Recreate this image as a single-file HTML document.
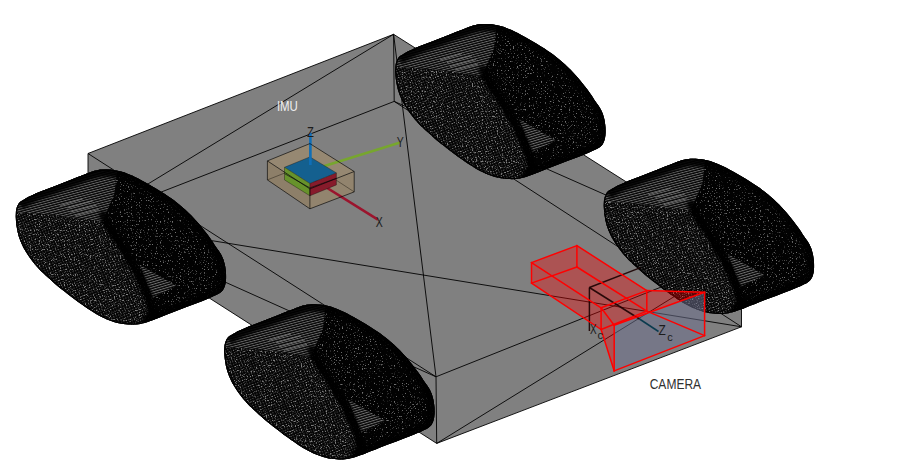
<!DOCTYPE html>
<html><head><meta charset="utf-8"><title>vehicle</title>
<style>html,body{margin:0;padding:0;background:#fff;}body{width:910px;height:476px;overflow:hidden;font-family:"Liberation Sans",sans-serif;}svg{display:block;}text{font-family:"Liberation Sans",sans-serif;}</style>
</head><body>
<svg width="910" height="476" viewBox="0 0 910 476">
<defs>
<pattern id="mesh" width="4.3" height="3.7" patternUnits="userSpaceOnUse" patternTransform="rotate(35)"><rect x="0" y="0" width="1" height="1" fill="#8a8a8a" fill-opacity="0.7"/><rect x="2.3" y="1.9" width="0.8" height="0.8" fill="#8a8a8a" fill-opacity="0.4"/></pattern>
<pattern id="mesh2" width="2.6" height="2.6" patternUnits="userSpaceOnUse" patternTransform="rotate(-22)"><rect x="0" y="0" width="1.15" height="1.15" fill="#868686"/></pattern>
<pattern id="stripe" width="4" height="2.4" patternUnits="userSpaceOnUse" patternTransform="rotate(-17)"><rect x="0" y="0" width="4" height="1" fill="#707070"/></pattern>
<pattern id="stripe2" width="4" height="2.3" patternUnits="userSpaceOnUse" patternTransform="rotate(-15)"><rect x="0" y="0" width="4" height="0.95" fill="#6a6a6a"/></pattern>
<filter id="speckT" x="385" y="15" width="230" height="175" filterUnits="userSpaceOnUse" color-interpolation-filters="sRGB"><feTurbulence type="fractalNoise" baseFrequency="0.75" numOctaves="1" seed="7"/><feColorMatrix type="matrix" values="0 0 0 0 0.45  0 0 0 0 0.45  0 0 0 0 0.45  8 0 0 0 -4.85"/></filter>
<filter id="speckA" x="385" y="15" width="230" height="175" filterUnits="userSpaceOnUse" color-interpolation-filters="sRGB"><feTurbulence type="fractalNoise" baseFrequency="0.8" numOctaves="1" seed="11"/><feColorMatrix type="matrix" values="0 0 0 0 0.5  0 0 0 0 0.5  0 0 0 0 0.5  8 0 0 0 -4.75"/></filter>
<clipPath id="zA"><path d="M396,66 L430,68 L480,75 L488.4,87 L501.8,107 L515.2,130.6 L525.3,154 L528.7,167.5 L516,185 L470,190 L420,145 L385,100 Z"/></clipPath>
<filter id="blur2" x="-30%" y="-30%" width="160%" height="160%"><feGaussianBlur stdDeviation="1.6"/></filter>
<clipPath id="wclip"><path d="M395.4,66.0 L395.2,68.3 L395.1,70.8 L395.3,73.3 L395.5,76.0 L395.8,78.9 L396.3,82.0 L396.8,85.1 L397.5,88.0 L398.2,90.7 L399.1,93.2 L400.0,95.7 L401.0,98.0 L402.0,100.2 L403.1,102.4 L404.3,104.4 L405.5,106.5 L406.8,108.5 L408.1,110.5 L409.5,112.4 L411.0,114.5 L412.7,116.7 L414.5,119.0 L416.5,121.3 L418.5,123.5 L420.6,125.7 L422.9,127.8 L425.2,129.9 L427.5,132.0 L429.8,134.1 L432.2,136.3 L434.6,138.4 L437.0,140.5 L439.4,142.4 L441.7,144.3 L444.1,146.1 L446.5,148.0 L449.1,150.0 L451.7,152.0 L454.4,154.1 L457.0,156.0 L459.5,157.8 L462.1,159.6 L464.5,161.3 L467.0,163.0 L469.4,164.6 L471.8,166.1 L474.1,167.6 L476.5,169.0 L478.8,170.3 L481.2,171.5 L483.5,172.6 L486.0,173.7 L488.6,174.8 L491.4,175.8 L494.2,176.7 L497.0,177.5 L499.8,178.1 L502.6,178.5 L505.3,178.8 L507.8,179.0 L510.0,179.1 L512.0,179.2 L513.9,179.1 L515.9,179.0 L517.9,178.8 L519.8,178.4 L521.9,178.0 L524.1,177.4 L526.5,176.7 L529.1,175.8 L531.9,174.8 L535.1,173.6 L538.5,172.3 L542.2,170.8 L546.5,169.1 L551.7,167.0 L558.8,164.3 L567.2,161.1 L575.4,157.9 L582.0,155.4 L586.2,153.7 L589.1,152.5 L591.2,151.6 L593.3,150.6 L595.6,149.5 L597.6,148.6 L599.4,147.5 L600.9,146.3 L602.2,144.9 L603.2,143.3 L604.0,141.6 L604.6,139.7 L605.1,137.6 L605.4,135.2 L605.6,132.8 L605.6,130.2 L605.5,127.5 L605.2,124.5 L604.8,121.6 L604.3,118.9 L603.6,116.4 L602.9,114.0 L601.9,111.7 L600.9,109.5 L599.7,107.4 L598.4,105.5 L596.9,103.5 L595.5,101.5 L594.1,99.4 L592.8,97.3 L591.3,95.0 L589.5,92.5 L587.4,89.6 L585.0,86.4 L582.4,83.2 L580.0,80.2 L577.7,77.5 L575.4,74.9 L573.1,72.4 L570.6,69.8 L567.9,67.2 L565.1,64.5 L562.2,61.9 L559.3,59.4 L556.5,57.2 L553.8,55.1 L551.0,53.0 L547.9,50.9 L544.4,48.6 L540.6,46.2 L536.7,43.8 L532.8,41.5 L528.9,39.2 L525.0,37.0 L521.2,34.9 L517.7,33.0 L514.5,31.4 L511.6,30.1 L508.8,28.9 L506.3,27.9 L504.2,27.1 L502.4,26.4 L500.5,25.9 L498.4,25.4 L495.7,24.9 L492.8,24.5 L489.8,24.1 L487.0,23.9 L484.5,23.9 L482.2,23.9 L479.9,24.1 L477.6,24.5 L475.7,24.9 L474.0,25.3 L471.8,26.0 L468.2,27.3 L462.8,29.4 L456.0,32.0 L448.7,34.9 L441.7,37.7 L434.7,40.4 L427.5,43.2 L420.8,45.8 L415.2,48.1 L411.2,49.9 L408.2,51.3 L406.0,52.6 L403.9,53.8 L402.0,54.9 L400.5,55.8 L399.3,56.7 L398.2,58.0 L397.2,59.7 L396.4,61.6 L395.8,63.8Z"/></clipPath>
<g id="wheel">
<path d="M395.4,66.0 L395.2,68.3 L395.1,70.8 L395.3,73.3 L395.5,76.0 L395.8,78.9 L396.3,82.0 L396.8,85.1 L397.5,88.0 L398.2,90.7 L399.1,93.2 L400.0,95.7 L401.0,98.0 L402.0,100.2 L403.1,102.4 L404.3,104.4 L405.5,106.5 L406.8,108.5 L408.1,110.5 L409.5,112.4 L411.0,114.5 L412.7,116.7 L414.5,119.0 L416.5,121.3 L418.5,123.5 L420.6,125.7 L422.9,127.8 L425.2,129.9 L427.5,132.0 L429.8,134.1 L432.2,136.3 L434.6,138.4 L437.0,140.5 L439.4,142.4 L441.7,144.3 L444.1,146.1 L446.5,148.0 L449.1,150.0 L451.7,152.0 L454.4,154.1 L457.0,156.0 L459.5,157.8 L462.1,159.6 L464.5,161.3 L467.0,163.0 L469.4,164.6 L471.8,166.1 L474.1,167.6 L476.5,169.0 L478.8,170.3 L481.2,171.5 L483.5,172.6 L486.0,173.7 L488.6,174.8 L491.4,175.8 L494.2,176.7 L497.0,177.5 L499.8,178.1 L502.6,178.5 L505.3,178.8 L507.8,179.0 L510.0,179.1 L512.0,179.2 L513.9,179.1 L515.9,179.0 L517.9,178.8 L519.8,178.4 L521.9,178.0 L524.1,177.4 L526.5,176.7 L529.1,175.8 L531.9,174.8 L535.1,173.6 L538.5,172.3 L542.2,170.8 L546.5,169.1 L551.7,167.0 L558.8,164.3 L567.2,161.1 L575.4,157.9 L582.0,155.4 L586.2,153.7 L589.1,152.5 L591.2,151.6 L593.3,150.6 L595.6,149.5 L597.6,148.6 L599.4,147.5 L600.9,146.3 L602.2,144.9 L603.2,143.3 L604.0,141.6 L604.6,139.7 L605.1,137.6 L605.4,135.2 L605.6,132.8 L605.6,130.2 L605.5,127.5 L605.2,124.5 L604.8,121.6 L604.3,118.9 L603.6,116.4 L602.9,114.0 L601.9,111.7 L600.9,109.5 L599.7,107.4 L598.4,105.5 L596.9,103.5 L595.5,101.5 L594.1,99.4 L592.8,97.3 L591.3,95.0 L589.5,92.5 L587.4,89.6 L585.0,86.4 L582.4,83.2 L580.0,80.2 L577.7,77.5 L575.4,74.9 L573.1,72.4 L570.6,69.8 L567.9,67.2 L565.1,64.5 L562.2,61.9 L559.3,59.4 L556.5,57.2 L553.8,55.1 L551.0,53.0 L547.9,50.9 L544.4,48.6 L540.6,46.2 L536.7,43.8 L532.8,41.5 L528.9,39.2 L525.0,37.0 L521.2,34.9 L517.7,33.0 L514.5,31.4 L511.6,30.1 L508.8,28.9 L506.3,27.9 L504.2,27.1 L502.4,26.4 L500.5,25.9 L498.4,25.4 L495.7,24.9 L492.8,24.5 L489.8,24.1 L487.0,23.9 L484.5,23.9 L482.2,23.9 L479.9,24.1 L477.6,24.5 L475.7,24.9 L474.0,25.3 L471.8,26.0 L468.2,27.3 L462.8,29.4 L456.0,32.0 L448.7,34.9 L441.7,37.7 L434.7,40.4 L427.5,43.2 L420.8,45.8 L415.2,48.1 L411.2,49.9 L408.2,51.3 L406.0,52.6 L403.9,53.8 L402.0,54.9 L400.5,55.8 L399.3,56.7 L398.2,58.0 L397.2,59.7 L396.4,61.6 L395.8,63.8Z" fill="#020202"/>
<g clip-path="url(#wclip)">
<rect x="385" y="15" width="230" height="175" filter="url(#speckT)"/>
<path d="M396,66 L430,68 L480,75 L488.4,87 L501.8,107 L515.2,130.6 L525.3,154 L528.7,167.5 L516,185 L470,190 L420,145 L385,100 Z" fill="#020202"/>
<path d="M396,66 L430,68 L480,75 L488.4,87 L501.8,107 L515.2,130.6 L525.3,154 L528.7,167.5 L516,185 L470,190 L420,145 L385,100 Z" fill="url(#mesh2)" fill-opacity="0.55"/>
<g clip-path="url(#zA)"><rect x="385" y="15" width="230" height="175" filter="url(#speckA)"/></g>
<path d="M390,66 L396,50 L473,20 L497,22 L494,48 L482,76 L430,69 L396,67 Z" fill="#020202"/>
<path d="M390,66 L396,50 L473,20 L497,22 L494,48 L482,76 L430,69 L396,67 Z" fill="url(#stripe2)"/>
<g stroke="#8a8a8a" stroke-width="0.9" stroke-opacity="0.8"><line x1="447" y1="62.5" x2="472" y2="55.5"/><line x1="450" y1="66.5" x2="476" y2="59.5"/><line x1="455" y1="70" x2="478" y2="64"/><line x1="440" y1="60" x2="462" y2="53.5"/></g>
<polygon points="519,119 556,140.5 532,152" fill="#020202"/>
<polygon points="519,119 556,140.5 532,152" fill="url(#stripe)"/>
<path d="M483,70 L492,87 L505.5,107 L519,130.6 L529,154 L533,172" fill="none" stroke="#000" stroke-width="9" stroke-opacity="0.92" stroke-linecap="round" filter="url(#blur2)"/>
<path d="M524.1,177.4 L535.1,173.6 L551.7,167.0 L582.0,155.4 L593.3,150.6 L600.9,146.3 L604.6,139.7 L605.6,130.2 L604.3,118.9 L600.9,109.5 L595.5,101.5 L589.5,92.5 L580.0,80.2 L570.6,69.8 L559.3,59.4 L547.9,50.9 L532.8,41.5 L517.7,33.0 L506.3,27.9 L498.4,25.4 L487.0,23.9 L477.6,24.5 L468.2,27.3 L441.7,37.7 L415.2,48.1 L403.9,53.8 L398.2,58.0" fill="none" stroke="#000" stroke-width="15" stroke-opacity="0.9" stroke-linejoin="round" filter="url(#blur2)"/>
<path d="M395.4,66.0 L395.2,68.3 L395.1,70.8 L395.3,73.3 L395.5,76.0 L395.8,78.9 L396.3,82.0 L396.8,85.1 L397.5,88.0 L398.2,90.7 L399.1,93.2 L400.0,95.7 L401.0,98.0 L402.0,100.2 L403.1,102.4 L404.3,104.4 L405.5,106.5 L406.8,108.5 L408.1,110.5 L409.5,112.4 L411.0,114.5 L412.7,116.7 L414.5,119.0 L416.5,121.3 L418.5,123.5 L420.6,125.7 L422.9,127.8 L425.2,129.9 L427.5,132.0 L429.8,134.1 L432.2,136.3 L434.6,138.4 L437.0,140.5 L439.4,142.4 L441.7,144.3 L444.1,146.1 L446.5,148.0 L449.1,150.0 L451.7,152.0 L454.4,154.1 L457.0,156.0 L459.5,157.8 L462.1,159.6 L464.5,161.3 L467.0,163.0 L469.4,164.6 L471.8,166.1 L474.1,167.6 L476.5,169.0 L478.8,170.3 L481.2,171.5 L483.5,172.6 L486.0,173.7 L488.6,174.8 L491.4,175.8 L494.2,176.7 L497.0,177.5 L499.8,178.1 L502.6,178.5 L505.3,178.8 L507.8,179.0 L510.0,179.1 L512.0,179.2 L513.9,179.1 L515.9,179.0 L517.9,178.8 L519.8,178.4 L521.9,178.0 L524.1,177.4 L526.5,176.7 L529.1,175.8 L531.9,174.8 L535.1,173.6 L538.5,172.3 L542.2,170.8 L546.5,169.1 L551.7,167.0 L558.8,164.3 L567.2,161.1 L575.4,157.9 L582.0,155.4 L586.2,153.7 L589.1,152.5 L591.2,151.6 L593.3,150.6 L595.6,149.5 L597.6,148.6 L599.4,147.5 L600.9,146.3 L602.2,144.9 L603.2,143.3 L604.0,141.6 L604.6,139.7 L605.1,137.6 L605.4,135.2 L605.6,132.8 L605.6,130.2 L605.5,127.5 L605.2,124.5 L604.8,121.6 L604.3,118.9 L603.6,116.4 L602.9,114.0 L601.9,111.7 L600.9,109.5 L599.7,107.4 L598.4,105.5 L596.9,103.5 L595.5,101.5 L594.1,99.4 L592.8,97.3 L591.3,95.0 L589.5,92.5 L587.4,89.6 L585.0,86.4 L582.4,83.2 L580.0,80.2 L577.7,77.5 L575.4,74.9 L573.1,72.4 L570.6,69.8 L567.9,67.2 L565.1,64.5 L562.2,61.9 L559.3,59.4 L556.5,57.2 L553.8,55.1 L551.0,53.0 L547.9,50.9 L544.4,48.6 L540.6,46.2 L536.7,43.8 L532.8,41.5 L528.9,39.2 L525.0,37.0 L521.2,34.9 L517.7,33.0 L514.5,31.4 L511.6,30.1 L508.8,28.9 L506.3,27.9 L504.2,27.1 L502.4,26.4 L500.5,25.9 L498.4,25.4 L495.7,24.9 L492.8,24.5 L489.8,24.1 L487.0,23.9 L484.5,23.9 L482.2,23.9 L479.9,24.1 L477.6,24.5 L475.7,24.9 L474.0,25.3 L471.8,26.0 L468.2,27.3 L462.8,29.4 L456.0,32.0 L448.7,34.9 L441.7,37.7 L434.7,40.4 L427.5,43.2 L420.8,45.8 L415.2,48.1 L411.2,49.9 L408.2,51.3 L406.0,52.6 L403.9,53.8 L402.0,54.9 L400.5,55.8 L399.3,56.7 L398.2,58.0 L397.2,59.7 L396.4,61.6 L395.8,63.8Z" fill="none" stroke="#000" stroke-width="2.5"/>
</g>
</g>
</defs>
<rect width="910" height="476" fill="#fff"/>
<polygon points="88.0,153.5 393.6,34.3 741.5,255.0 741.5,326.8 436.7,443.4 88.0,220.5" fill="#808080"/>
<g stroke="#000" stroke-width="0.9" fill="none">
<line x1="88.0" y1="153.5" x2="393.6" y2="34.3" />
<line x1="393.6" y1="34.3" x2="741.5" y2="255.0" />
<line x1="741.5" y1="255.0" x2="436.0" y2="376.8" />
<line x1="436.0" y1="376.8" x2="88.0" y2="153.5" />
<line x1="88.0" y1="220.5" x2="394.2" y2="101.4" />
<line x1="394.2" y1="101.4" x2="741.5" y2="326.8" />
<line x1="741.5" y1="326.8" x2="436.7" y2="443.4" />
<line x1="436.7" y1="443.4" x2="88.0" y2="220.5" />
<line x1="88.0" y1="153.5" x2="88.0" y2="220.5" />
<line x1="393.6" y1="34.3" x2="394.2" y2="101.4" />
<line x1="741.5" y1="255.0" x2="741.5" y2="326.8" />
<line x1="436.0" y1="376.8" x2="436.7" y2="443.4" />
<line x1="393.6" y1="34.3" x2="436.0" y2="376.8" />
<line x1="88.0" y1="220.5" x2="741.5" y2="326.8" />
<line x1="88.0" y1="220.5" x2="436.0" y2="376.8" />
<line x1="436.7" y1="443.4" x2="741.5" y2="255.0" />
<line x1="394.2" y1="101.4" x2="741.5" y2="255.0" />
<line x1="88.0" y1="220.5" x2="393.6" y2="34.3" />
</g>
<use href="#wheel" transform="translate(0,0)"/>
<use href="#wheel" transform="translate(-379.5,145.5)"/>
<use href="#wheel" transform="translate(208.5,134.8)"/>
<use href="#wheel" transform="translate(-171,280.3)"/>
<polygon points="267.4,160.9 309.9,143.6 354.2,171.5 309.9,188.9" fill="#968872"/>
<polygon points="267.4,160.9 309.9,188.9 309.9,208.8 267.4,179.9" fill="#8d7f69"/>
<polygon points="309.9,188.9 354.2,171.5 354.2,191.9 309.9,208.8" fill="#92846e"/>
<g stroke="#2a241a" stroke-width="0.7" fill="none" stroke-opacity="0.75">
<line x1="267.4" y1="179.9" x2="309.9" y2="163.0" />
<line x1="309.9" y1="163.0" x2="354.2" y2="191.9" />
<line x1="309.9" y1="163.0" x2="309.9" y2="143.6" />
</g>
<line x1="310.0" y1="170.5" x2="400.2" y2="142.6" stroke="#77a62e" stroke-width="2.6"/>
<line x1="312.0" y1="178.5" x2="377.9" y2="219.6" stroke="#9b142d" stroke-width="2.6"/>
<polygon points="284.5,167.3 309.9,156.9 336.4,172.9 309.9,183.5" fill="#14608f"/>
<polygon points="284.5,167.3 309.9,183.5 309.9,195.8 284.5,179.9" fill="#67922b"/>
<polygon points="309.9,183.5 336.4,172.9 336.4,184.9 309.9,195.8" fill="#871b2b"/>
<g stroke="#111" stroke-width="0.7" fill="none">
<line x1="284.5" y1="167.3" x2="309.9" y2="156.9" stroke-opacity="0.55"/>
<line x1="309.9" y1="156.9" x2="336.4" y2="172.9" stroke-opacity="0.55"/>
<line x1="336.4" y1="172.9" x2="309.9" y2="183.5" stroke-opacity="0.55"/>
<line x1="309.9" y1="183.5" x2="284.5" y2="167.3" stroke-opacity="0.55"/>
<line x1="284.5" y1="167.3" x2="284.5" y2="179.9" stroke-opacity="0.55"/>
<line x1="309.9" y1="183.5" x2="309.9" y2="195.8" stroke-opacity="0.55"/>
<line x1="336.4" y1="172.9" x2="336.4" y2="184.9" stroke-opacity="0.55"/>
<line x1="284.5" y1="179.9" x2="309.9" y2="195.8" stroke-opacity="0.55"/>
<line x1="309.9" y1="195.8" x2="336.4" y2="184.9" stroke-opacity="0.55"/>
<line x1="284.5" y1="173.6" x2="309.9" y2="187.9" />
<line x1="309.9" y1="187.9" x2="336.4" y2="178.3" />
</g>
<line x1="310.4" y1="165.0" x2="310.4" y2="133.0" stroke="#0f6fb8" stroke-width="2.6"/>
<g stroke="#000" stroke-width="0.8" fill="none" stroke-opacity="0.8">
<line x1="267.4" y1="160.9" x2="309.9" y2="143.6" />
<line x1="309.9" y1="143.6" x2="354.2" y2="171.5" />
<line x1="354.2" y1="171.5" x2="309.9" y2="188.9" />
<line x1="309.9" y1="188.9" x2="267.4" y2="160.9" />
<line x1="267.4" y1="160.9" x2="267.4" y2="179.9" />
<line x1="309.9" y1="188.9" x2="309.9" y2="208.8" />
<line x1="354.2" y1="171.5" x2="354.2" y2="191.9" />
<line x1="267.4" y1="179.9" x2="309.9" y2="208.8" />
<line x1="309.9" y1="208.8" x2="354.2" y2="191.9" />
</g>
<polygon points="531.5,262.6 576.9,245.6 646.8,290.6 704.6,292.2 614.2,325.3 614.2,370.9 601.1,329.5 531.5,283.1" fill="#ff0000" fill-opacity="0.35"/>
<polygon points="614.2,325.3 704.6,292.2 704.6,335.6 614.2,370.9" fill="#6e708c" fill-opacity="0.55"/>
<g stroke="#1a0000" stroke-width="1.5" fill="none" stroke-opacity="0.9">
<line x1="589.4" y1="287.5" x2="589.4" y2="331.0" />
<line x1="589.4" y1="287.5" x2="640.5" y2="267.6" />
<line x1="589.4" y1="287.5" x2="639.5" y2="319.0" />
</g>
<line x1="639.5" y1="319.0" x2="658.5" y2="331.5" stroke="#0b3b4e" stroke-width="1.5"/>
<g stroke="#ff0000" stroke-width="1.5" fill="none" stroke-linejoin="round" stroke-linecap="round">
<line x1="531.5" y1="262.6" x2="576.9" y2="245.6" />
<line x1="576.9" y1="245.6" x2="646.8" y2="290.6" />
<line x1="646.8" y1="290.6" x2="601.1" y2="307.8" />
<line x1="601.1" y1="307.8" x2="531.5" y2="262.6" />
<line x1="531.5" y1="283.1" x2="576.9" y2="267.0" />
<line x1="576.9" y1="267.0" x2="646.8" y2="311.1" />
<line x1="646.8" y1="311.1" x2="601.1" y2="329.5" />
<line x1="601.1" y1="329.5" x2="531.5" y2="283.1" />
<line x1="531.5" y1="262.6" x2="531.5" y2="283.1" />
<line x1="576.9" y1="245.6" x2="576.9" y2="267.0" />
<line x1="646.8" y1="290.6" x2="646.8" y2="311.1" />
<line x1="601.1" y1="307.8" x2="601.1" y2="329.5" />
<line x1="614.2" y1="325.3" x2="704.6" y2="292.2" />
<line x1="704.6" y1="292.2" x2="704.6" y2="335.6" />
<line x1="704.6" y1="335.6" x2="614.2" y2="370.9" />
<line x1="614.2" y1="370.9" x2="614.2" y2="325.3" />
<line x1="601.1" y1="307.8" x2="614.2" y2="325.3" />
<line x1="646.8" y1="290.6" x2="704.6" y2="292.2" />
<line x1="646.8" y1="311.1" x2="704.6" y2="335.6" />
<line x1="601.1" y1="329.5" x2="614.2" y2="370.9" />
</g>
<text x="276.9" y="111.2" font-size="14.2" fill="#efefef" text-anchor="start" textLength="21" lengthAdjust="spacingAndGlyphs">IMU</text>
<text x="310.4" y="137" font-size="14.2" fill="#1c1c1c" text-anchor="middle" textLength="6.8" lengthAdjust="spacingAndGlyphs">Z</text>
<text x="400.2" y="147.4" font-size="14.2" fill="#1c1c1c" text-anchor="middle" textLength="7" lengthAdjust="spacingAndGlyphs">Y</text>
<text x="379.3" y="226.5" font-size="14.2" fill="#1c1c1c" text-anchor="middle" textLength="7" lengthAdjust="spacingAndGlyphs">X</text>
<text x="649.7" y="388.6" font-size="14.2" fill="#303030" text-anchor="start" textLength="51.4" lengthAdjust="spacingAndGlyphs">CAMERA</text>
<text x="593.3" y="333.6" font-size="14.2" fill="#1c1c1c" text-anchor="middle" textLength="6.6" lengthAdjust="spacingAndGlyphs">X</text>
<text x="600.3" y="339" font-size="11" fill="#1c1c1c" text-anchor="middle">c</text>
<text x="662.2" y="334.7" font-size="14.2" fill="#1c1c1c" text-anchor="middle" textLength="7.3" lengthAdjust="spacingAndGlyphs">Z</text>
<text x="670.1" y="340.6" font-size="11" fill="#1c1c1c" text-anchor="middle">c</text>
</svg>
</body></html>
